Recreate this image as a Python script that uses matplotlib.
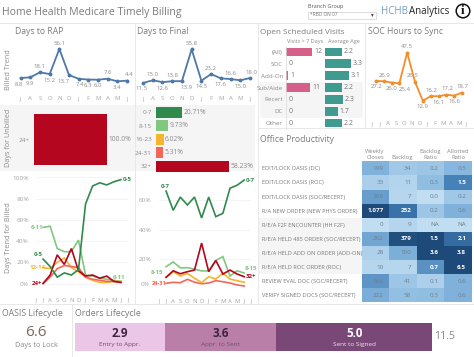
import numpy as np
import matplotlib
matplotlib.use('Agg')
import matplotlib.pyplot as plt
from matplotlib.colors import LinearSegmentedColormap, PowerNorm
from matplotlib.patches import Rectangle, Circle

W, H = 474, 357
plt.rcParams['font.family'] = ['Open Sans', 'DejaVu Sans']

# ---------- data ----------
months12 = list('JASONDJFMAMJ')
months14 = list('JJASONDJFMAMJJ')
months13 = list('JJASONDJFMAMJ')

rap_values = [8.8, 9.9, 18.1, 15.2, 56.1, 13.7, 7.4, 6.3, 6.0, 7.6, 3.4, 4.4]
final_values = [11.5, 15.0, 12.6, 13.8, 13.9, 55.8, 14.5, 23.2, 17.6, 16.6, 15.0, 18.0]
soc_values = [27.2, 26.9, 26.0, 25.4, 47.5, 26.5, 12.9, 16.2, 16.1, 17.2, 16.6, 18.7]

unbilled_rap_cats = ['24+']
unbilled_rap_vals = [100.0]
unbilled_final_cats = ['0-7', '8-15', '16-23', '24-31', '32+']
unbilled_final_vals = [20.71, 9.73, 6.02, 5.31, 58.23]

trend_rap_05 = [23, 16, 6, 10, 8, 13, 75, 92, 95, 93, 96, 98]
trend_rap_611 = [53, 54, 33, 30, 30, 41, 8, 7, 5, 4, 3, 2]
trend_rap_1214 = [15, 14, 20, 24, 15, 11, 6, 3, 1, 1, 2, 2]
trend_rap_1523 = [0, 6, 14, 17, 16, 15, 6, 4, 3, 2, 2, 1]
trend_rap_24 = [0, 8, 27, 18, 33, 12, 7, 8, 5, 7, 2, 1]

trend_final_07 = [66, 53, 62, 56.6, 62, 47.8, 62, 48.7, 51, 68, 70, 73.5]
trend_final_815 = [14.8, 18, 14, 14.1, 13.2, 11.9, 12, 19, 21.6, 8.5, 12, 10.5]
trend_final_1623 = [7.6, 11.4, 8.5, 10.2, 7, 4, 8, 6.4, 10.3, 6.4, 5.3, 4.2]
trend_final_2431 = [3.5, 4.2, 3.9, 6.2, 4.3, 3.2, 3.7, 5.3, 4.6, 3.7, 2.4, 1.7]
trend_final_32 = [7.6, 12, 10, 11.4, 12.5, 30.8, 11.4, 19, 9.8, 12.5, 9.8, 8]

visit_cats = ['(All)', 'SOC', 'Add-On', 'Sub/Aide', 'Recert', 'DC', 'Other']
visits_over7 = [12, 0, 1, 11, 0, 0, 0]
average_age = [2.2, 3.3, 3.1, 2.2, 2.3, 1.7, 2.2]

office_tasks = ['EDIT/LOCK OASIS (DC)', 'EDIT/LOCK OASIS (ROC)', 'EDIT/LOCK OASIS (SOC/RECERT)',
                'R/A NEW ORDER (NEW PHYS ORDER)', 'R/E/A F2F ENCOUNTER (HH F2F)',
                'R/E/A HELD 485 ORDER (SOC/RECERT)', 'R/E/A HELD ADD ON ORDER (ADD-ON)',
                'R/E/A HELD ROC ORDER (ROC)', 'REVIEW EVAL DOC (SOC/RECERT)',
                'VERIFY SIGNED DOCS (SOC/RECERT)']
office_headers = ['Weekly\nCloses', 'Backlog', 'Backlog\nRatio', 'Allotted\nRatio']
weekly_closes = [199, 33, 309, 1077, 0, 262, 28, 10, 366, 222]
backlog = [34, 11, 7, 252, 9, 379, 100, 7, 41, 58]
backlog_ratio = [0.2, 0.3, 0.0, 0.2, np.nan, 1.5, 3.6, 0.7, 0.1, 0.3]
allotted_ratio = [0.5, 1.5, 0.2, 0.6, np.nan, 2.1, 3.8, 6.5, 0.6, 0.6]

order_stages = ['Entry to Appr.', 'Appr. to Sent', 'Sent to Signed']
order_days = [2.9, 3.6, 5.0]
order_total = 11.5
oasis_days = 6.6

# ---------- styles ----------
GREY = '#8a8a8a'
TITLE = '#7b7b7b'
LINE = '#e8e8e8'
BAND = '#f5f5f5'
DKGREEN = '#2f8a4b'
LTGREEN = '#82c77f'
AMBER = '#f5b52c'
CORAL = '#f4665a'
CRIMSON = '#b4061e'
NAVY = '#4e79a7'


def px_ax(x0, y0, x1, y1, **kw):
    """Axes placed by pixel box (y measured from the top)."""
    ax = fig.add_axes([x0 / W, 1 - y1 / H, (x1 - x0) / W, (y1 - y0) / H], **kw)
    ax.patch.set_alpha(0)
    for s in ax.spines.values():
        s.set_visible(False)
    ax.tick_params(length=0, pad=0)
    return ax


fig = plt.figure(figsize=(W / 100, H / 100), dpi=100, facecolor='white')

# overlay in pixel coordinates for bands, rules and free text
ov = fig.add_axes([0, 0, 1, 1], zorder=0)
ov.set_xlim(0, W)
ov.set_ylim(H, 0)
ov.axis('off')


def txt(x, y, s, size=5, color=GREY, ha='left', va='center', **kw):
    return ov.text(x, y, s, fontsize=size, color=color, ha=ha, va=va, **kw)


# bands
ov.add_patch(Rectangle((0, 105), 255, 66, fc=BAND, ec='none'))
ov.add_patch(Rectangle((260, 82), 103, 36, fc=BAND, ec='none'))
ov.add_patch(Rectangle((258, 218), 104, 56.4, fc=BAND, ec='none'))

# rules
for x, a, b in [(135, 23, 304), (258, 23, 304), (365, 23, 127), (72, 304, 357)]:
    ov.plot([x, x], [a, b], color=LINE, lw=0.7)
for y, a, b in [(22.5, 0, 474), (304, 0, 474), (127.5, 258, 474)]:
    ov.plot([a, b], [y, y], color=LINE, lw=0.7)

# header
txt(2, 12.5, 'Home Health Medicare Timely Billing', size=7.6, color=TITLE)
txt(308, 6.5, 'Branch Group', size=3.9, color='#555555')
ov.add_patch(Rectangle((308, 11.5), 68, 7, fc='white', ec='#cfcfcf', lw=0.5))
txt(310, 15, '*RBD ON 07', size=3.4, color='#777777')
txt(372.5, 15, '▾', size=4, color='#444444', ha='center')
txt(381.5, 11.5, 'HCHB', size=7.0, color='#6f9fc6')
txt(409.5, 11.5, 'Analytics', size=7.0, color='#222222')
ov.add_patch(Circle((463, 11), 6.8, fc='white', ec='#111111', lw=1.1))
ov.text(463, 11.2, 'i', fontsize=9.5, family='Liberation Serif', weight='bold', color='#111111',
        ha='center', va='center')

# panel titles
txt(15, 31, 'Days to RAP', size=6.2, color=TITLE)
txt(137.5, 31, 'Days to Final', size=6.2, color=TITLE)
txt(260, 32, 'Open Scheduled Visits', size=5.9, color=TITLE)
txt(368, 32, 'SOC Hours to Sync', size=6.2, color=TITLE)
txt(260, 140, 'Office Productivity', size=6.2, color=TITLE)
txt(2, 313.5, 'OASIS Lifecycle', size=6.2, color=TITLE)
txt(75, 313.5, 'Orders Lifecycle', size=6.3, color=TITLE)

# row captions
txt(8.5, 70, 'Billed Trend', size=5.2, rotation=90, ha='center')
txt(8.5, 138, 'Days for Unbilled', size=5.2, rotation=90, ha='center')
txt(8.5, 238, 'Days Trend for Billed', size=5.2, rotation=90, ha='center')


def trend_line(x0, x1, n, zero_px, px_per_unit, top_val, bottom_px, values, color, labels,
               ticks, tick_labels, tick_offset=0):
    top_px = zero_px - top_val * px_per_unit
    ax = px_ax(x0, top_px, x1, bottom_px)
    ax.set_xlim(0, n - 1)
    ax.set_ylim(-(bottom_px - zero_px) / px_per_unit, top_val)
    ax.plot(range(len(values)), values, color=color, lw=1.3, marker='o', ms=1.8, clip_on=False)
    ax.set_xticks(ticks, tick_labels, fontsize=4.3, color='#a5a5a5')
    ax.set_yticks([])
    for i, (v, (dx, sign)) in enumerate(zip(values, labels)):
        ax.annotate(f'{v:.1f}', (i, v), xytext=(dx * 0.72, sign * 6.0 * 0.72),
                    textcoords='offset points', fontsize=4.3, color=GREY,
                    ha='center', va='center', annotation_clip=False)
    return ax


rap_labels = [(-1.5, -1), (0, -1), (-1, 1), (0, -1), (0, 1), (-6, -1), (1, -1), (0, -1), (0, -1), (0, 1), (0, -1), (2, 1)]
final_labels = [(-1, -1), (0, 1), (0, -1), (0, 1), (5, -1), (0, 1), (0, -1), (0, 1), (0, -1), (0, 1), (0, -1), (1, 1)]
soc_labels = [(1, -1), (1, 1), (0, -1), (5, -1), (0, 1), (-2, 1), (0, -1), (1, 1), (0, -1), (1, 1), (0, -1), (0, 1)]

a = trend_line(20.7, 127, 12, 83.4, 0.613, 60, 92, rap_values, NAVY, rap_labels, range(12), months12)
a.tick_params(axis='x', pad=3)
a = trend_line(143, 250, 12, 91.7, 0.76, 60, 92, final_values, NAVY, final_labels, range(12), months12)
a.tick_params(axis='x', pad=3)
a = trend_line(372.7, 466.7, 12, 118.6, 1.387, 50, 119, soc_values, '#f28e2b', soc_labels,
               np.arange(13) - 0.4, months13)
a.tick_params(axis='x', pad=1.5)

# unbilled bars
ax = px_ax(33.5, 106.5, 107, 172.5)
ax.barh([0], unbilled_rap_vals, height=0.78, color=CRIMSON)
ax.set_xlim(0, 100)
ax.set_ylim(-0.5, 0.5)
ax.set_yticks([0], unbilled_rap_cats, fontsize=4.6, color=GREY)
ax.tick_params(axis='y', pad=3)
ax.set_xticks([])
ax.text(101.5, 0, f'{unbilled_rap_vals[0]:.1f}%', fontsize=4.8, color=GREY, va='center')

ax = px_ax(156, 105.5, 230, 173)
ypos = np.arange(len(unbilled_final_vals))
ax.barh(ypos, unbilled_final_vals, height=0.78,
        color=[DKGREEN, LTGREEN, AMBER, CORAL, CRIMSON])
ax.set_xlim(0, 59)
ax.set_ylim(4.5, -0.5)
ax.set_yticks(ypos, unbilled_final_cats, fontsize=4.6, color=GREY)
ax.tick_params(axis='y', pad=3)
ax.set_xticks([])
for y, v in zip(ypos, unbilled_final_vals):
    ax.text(v + 1.2, y, f'{v:.2f}%', fontsize=4.8, color=GREY, va='center')


# trend for billed
def share_axes(x0, x1, zero_px, px_pt, top, bottom_px, yticks, ypad):
    top_px = zero_px - top * px_pt
    ax = px_ax(x0, top_px, x1, bottom_px)
    ax.set_xlim(0, 13)
    ax.set_ylim(-(bottom_px - zero_px) / px_pt, top)
    ax.set_xticks(range(14), months14, fontsize=4.3, color='#a5a5a5')
    ax.tick_params(axis='x', pad=7)
    ax.set_yticks(yticks, [f'{t}%' for t in yticks], fontsize=4.6, color='#a5a5a5')
    ax.tick_params(axis='y', pad=ypad)
    ax.grid(axis='y', color='#f0f0f0', lw=0.5)
    ax.set_axisbelow(True)
    return ax


ax = share_axes(36, 128, 283.5, 1.06, 102, 288, [0, 20, 40, 60, 80, 100], 5)
mx = np.arange(1, 13)
for vals, col in [(trend_rap_611, LTGREEN), (trend_rap_1214, AMBER), (trend_rap_1523, CORAL),
                  (trend_rap_24, CRIMSON), (trend_rap_05, DKGREEN)]:
    ax.plot(mx, vals, color=col, lw=1.2, solid_joinstyle='miter')
for i, v, s, col, dx, dy, ha in [
    (0, trend_rap_05[0], '0-5', DKGREEN, 0, -5, 'right'),
    (0, trend_rap_611[0], '6-11', LTGREEN, 0, 0, 'right'),
    (0, trend_rap_1214[0], '12-14', AMBER, 3, 0, 'right'),
    (0, trend_rap_24[0], '24+', CRIMSON, -1, 0, 'right'),
    (11, trend_rap_05[11], '0-5', DKGREEN, 2, 0, 'left'),
    (11, trend_rap_611[11], '6-11', LTGREEN, -8, -4, 'left'),
]:
    ax.annotate(s, (mx[i], v), xytext=(dx * 0.72, -dy * 0.72), textcoords='offset points',
                fontsize=4.4, color=col, ha=ha, va='center', weight='bold', annotation_clip=False)

ax = share_axes(159, 251.3, 288.5, 1.475, 75, 289, [20, 40, 60], 5.5)
ax.annotate('0%', (0, 0), xytext=(-9.5 * 0.72, 3.5 * 0.72), textcoords='offset points', fontsize=4.6,
            color='#a5a5a5', ha='right', va='center', annotation_clip=False)
for vals, col in [(trend_final_815, LTGREEN), (trend_final_2431, CORAL), (trend_final_1623, AMBER),
                  (trend_final_32, CRIMSON), (trend_final_07, DKGREEN)]:
    ax.plot(mx, vals, color=col, lw=1.2, solid_joinstyle='miter')
for i, v, s, col, dx, dy, ha, fs in [
    (0, trend_final_07[0], '0-7', DKGREEN, -1, -5, 'center', 4.4),
    (0, trend_final_815[0], '8-15', LTGREEN, -3, 6, 'right', 4.4),
    (0, trend_final_2431[0], '24-31', CORAL, 0, 0, 'right', 4.1),
    (11, trend_final_07[11], '0-7', DKGREEN, 2, 0, 'left', 4.4),
    (11, trend_final_815[11], '8-15', LTGREEN, 1, -5, 'left', 4.4),
    (11, trend_final_32[11], '32+', CRIMSON, 2, 0, 'left', 4.4),
]:
    ax.annotate(s, (mx[i], v), xytext=(dx * 0.72, -dy * 0.72), textcoords='offset points',
                fontsize=fs, color=col, ha=ha, va='center', weight='bold', annotation_clip=False)

# open scheduled visits
txt(305, 42, 'Visits > 7 Days', size=4.0, ha='center')
txt(344, 42, 'Average Age', size=4.0, ha='center')
vy = np.arange(len(visit_cats))
ax = px_ax(285.7, 46, 318, 129)
ax.barh(vy, visits_over7, height=0.74, color='#d5618a')
ax.set_xlim(0, 14.7)
ax.set_ylim(6.5, -0.5)
ax.set_yticks(vy, visit_cats, fontsize=4.5, color=GREY)
ax.tick_params(axis='y', pad=2)
ax.set_xticks([])
ax.spines['left'].set_visible(True)
ax.spines['left'].set_color('#d9d9d9')
ax.spines['left'].set_linewidth(0.5)
for y, v in zip(vy, visits_over7):
    ax.text(v + 1.2, y, str(v), fontsize=5, color='#777777', va='center')
ax = px_ax(324.7, 46, 362, 129)
ax.barh(vy, average_age, height=0.74, color='#3f9a8f')
ax.set_xlim(0, 37.3 / 7.9)
ax.set_ylim(6.5, -0.5)
ax.set_yticks([])
ax.set_xticks([])
for y, v in zip(vy, average_age):
    ax.text(v + 0.2, y, f'{v:.1f}', fontsize=5, color='#777777', va='center')

# office productivity
cmap = LinearSegmentedColormap.from_list('b', ['#c0ddf1', '#86b7de', '#3f7bb3', '#1d4a78'])
cmap.set_bad('#c0ddf1')
columns = [weekly_closes, backlog, backlog_ratio, allotted_ratio]
vmaxes = [1077, 400, 1.5, 3.2]
gammas = [0.6, 0.7, 0.8, 0.6]
ax = px_ax(361.7, 161.3, 471.7, 302.3)
ax.set_xlim(0, 4)
ax.set_ylim(10, 0)
for j, (col, vm, g) in enumerate(zip(columns, vmaxes, gammas)):
    arr = np.ma.masked_invalid(np.array(col, dtype=float))[:, None]
    ax.pcolormesh([j, j + 1], np.arange(11), arr, cmap=cmap, norm=PowerNorm(g, vmin=0, vmax=vm, clip=True))
    for i, v in enumerate(col):
        t = 'NA' if np.isnan(v) else (f'{v:,.0f}' if j < 2 else f'{v:.1f}')
        level = 0 if np.isnan(v) else min(v / vm, 1) ** g
        ax.text(j + 0.8, i + 0.5, t, fontsize=4.5, ha='right', va='center',
                color='white' if level > 0.53 else '#6b7f90',
                weight='bold' if level > 0.53 else 'normal')
ax.set_xticks([])
ax.set_yticks(np.arange(10) + 0.5, office_tasks, fontsize=4.1, color='#777777', ha='left')
ax.tick_params(axis='y', pad=99.7 * 0.72)
for cx, h in zip([375, 402, 430, 458], office_headers):
    txt(cx, 160 - 0.0, h, size=4.2, ha='center', va='bottom', linespacing=1.25)

# lifecycle
txt(36, 332, f'{oasis_days}', size=11, color='#7d6a5c', ha='center')
txt(36, 345.5, 'Days to Lock', size=5.2, ha='center')
ax = px_ax(74.7, 322.7, 431.7, 350.7)
left = 0
for d, s, c, ct in zip(order_days, order_stages, ['#ebc6e6', '#b97fa8', '#7a4877'],
                       ['#3a2340', '#3a2340', 'white']):
    ax.barh([0], [d], left=left, height=1, color=c)
    ax.text(left + d / 2, 0.13, f'{d}', fontsize=8.4, weight='bold', color=ct, ha='center', va='center')
    ax.text(left + d / 2, -0.28, s, fontsize=4.6, color='#6e5168' if ct != 'white' else '#f3e4f0',
            ha='center', va='center')
    left += d
ax.set_xlim(0, sum(order_days))
ax.set_ylim(-0.5, 0.5)
ax.set_xticks([])
ax.set_yticks([])
ax.text(left + 0.08, 0, f'{order_total}', fontsize=7.6, color=GREY, va='center')

fig.savefig('out.png', dpi=100)
